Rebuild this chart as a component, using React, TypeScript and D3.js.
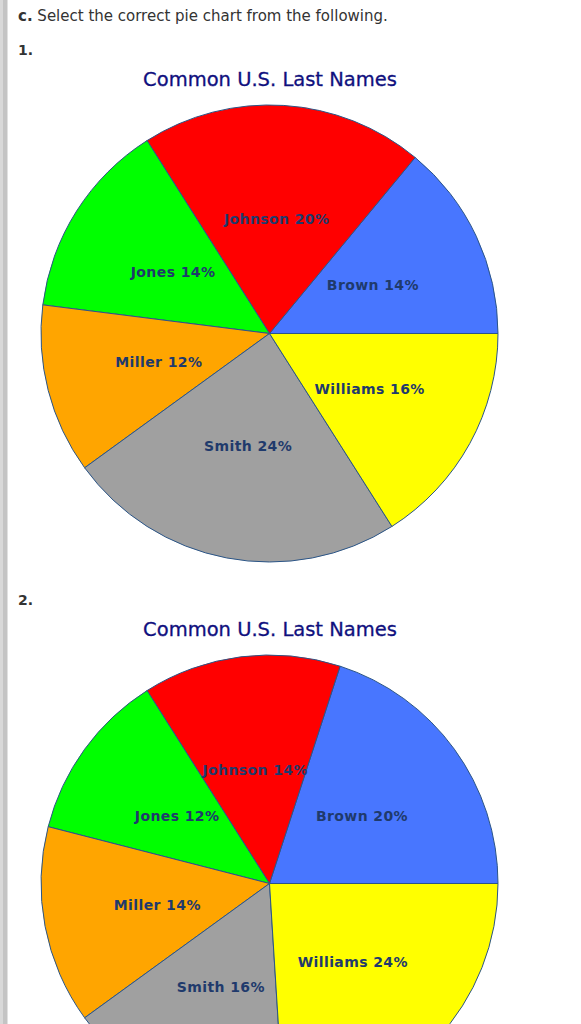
import * as d3 from "d3";
import { useRef, useEffect } from "react";

const names = ["Brown", "Johnson", "Jones", "Miller", "Smith", "Williams"];
const chart1Values = [14, 20, 14, 12, 24, 16];
const chart2Values = [20, 14, 12, 14, 16, 24];
const colors = ["#4876ff", "#ff0000", "#00ff00", "#ffa500", "#a0a0a0", "#ffff00"];
const chartTitle = "Common U.S. Last Names";

const width = 581;
const height = 1024;

function drawPie(
  g: d3.Selection<SVGGElement, unknown, null, undefined>,
  values: number[],
  radius: number
) {
  // slices run counter-clockwise from 3 o'clock
  const pie = d3
    .pie<number>()
    .sort(null)
    .startAngle(Math.PI / 2)
    .endAngle(Math.PI / 2 - 2 * Math.PI);
  const arc = d3.arc<d3.PieArcDatum<number>>().innerRadius(0).outerRadius(radius);
  const arcs = pie(values);

  g.selectAll("path.slice")
    .data(arcs)
    .join("path")
    .attr("class", "slice")
    .attr("d", arc)
    .attr("fill", (_, i) => colors[i])
    .attr("stroke", "#2b5587")
    .attr("stroke-width", 1);

  g.selectAll("text.label")
    .data(arcs)
    .join("text")
    .attr("class", "label")
    .attr("transform", (d) => `translate(${arc.centroid(d)})`)
    .attr("text-anchor", "middle")
    .attr("dominant-baseline", "central")
    .attr("fill", "#1f3a6c")
    .attr("font-family", "DejaVu Sans, sans-serif")
    .attr("font-weight", "bold")
    .attr("font-size", 14)
    .attr("letter-spacing", 0.4)
    .text((d, i) => `${names[i]} ${d.data}%`);
}

export default function App() {
  const svgRef = useRef<SVGSVGElement>(null);

  useEffect(() => {
    if (!svgRef.current) return;
    const svg = d3.select(svgRef.current);
    svg.selectAll("*").remove();

    // left page border
    svg.append("rect").attr("x", 0).attr("y", 0).attr("width", 3).attr("height", height).attr("fill", "#d9d9d9");
    svg.append("rect").attr("x", 3).attr("y", 0).attr("width", 4.5).attr("height", height).attr("fill", "#c4c4c4");

    const header = svg
      .append("text")
      .attr("x", 18)
      .attr("y", 21)
      .attr("font-family", "DejaVu Sans, sans-serif")
      .attr("font-size", 15)
      .attr("fill", "#333");
    header.append("tspan").attr("font-weight", "bold").text("c.");
    header.append("tspan").text(" Select the correct pie chart from the following.");

    const radius = 228.5;
    const charts = [
      { label: "1.", values: chart1Values, top: 0 },
      { label: "2.", values: chart2Values, top: 550 },
    ];

    charts.forEach((c) => {
      svg
        .append("text")
        .attr("x", 18)
        .attr("y", c.top + 55)
        .attr("font-family", "DejaVu Sans, sans-serif")
        .attr("font-size", 14)
        .attr("font-weight", "bold")
        .attr("fill", "#333")
        .text(c.label);

      svg
        .append("text")
        .attr("x", 270)
        .attr("y", c.top + 86)
        .attr("text-anchor", "middle")
        .attr("font-family", "DejaVu Sans, sans-serif")
        .attr("font-size", 19.5)
        .attr("fill", "#10107e")
        .attr("stroke", "#10107e")
        .attr("stroke-width", 0.3)
        .text(chartTitle);

      const g = svg.append("g").attr("transform", `translate(269.5, ${c.top + 333.5})`);
      drawPie(g, c.values, radius);
    });
  }, []);

  return (
    <svg
      ref={svgRef}
      width={width}
      height={height}
      style={{ position: "absolute", left: 0, top: 0, background: "#fff" }}
    />
  );
}
